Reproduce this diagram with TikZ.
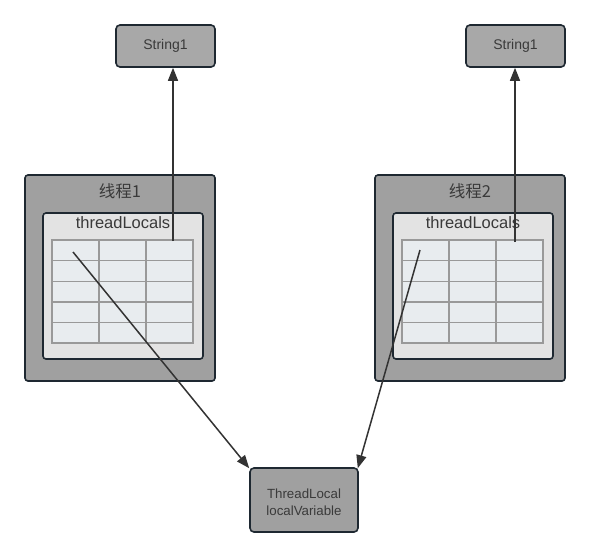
\documentclass[tikz,border=0pt]{standalone}
\usepackage{fontspec}
\setmainfont{Liberation Sans}
\newfontfamily\cjk{Noto Sans CJK SC}
\usetikzlibrary{arrows.meta,calc}
\definecolor{bordc}{HTML}{1E2831}
\definecolor{outerc}{HTML}{A0A0A0}
\definecolor{innerc}{HTML}{E3E3E3}
\definecolor{cellc}{HTML}{E8ECEF}
\definecolor{gridc}{HTML}{999999}
\definecolor{txtc}{HTML}{3A3A3A}
\definecolor{arrc}{HTML}{333333}
\tikzset{
  outerbox/.style={draw=bordc, fill=outerc, line width=1.6pt, rounded corners=3pt, minimum width=190pt, minimum height=206pt, inner sep=0pt},
  innerbox/.style={draw=bordc, fill=innerc, line width=1.6pt, rounded corners=3pt, minimum width=160pt, minimum height=146pt, inner sep=0pt},
  strbox/.style={draw=bordc, fill=outerc!92!white, line width=1.6pt, rounded corners=4pt, minimum width=99pt, minimum height=42pt, inner sep=0pt, text=txtc, font=\fontsize{14}{16}\selectfont},
  tlbox/.style={draw=bordc, fill=outerc, line width=1.6pt, rounded corners=4pt, minimum width=108pt, minimum height=64pt, inner sep=0pt, text=txtc, align=center, font=\fontsize{13.3}{17}\selectfont},
  titletxt/.style={text=txtc, inner sep=0pt, font=\cjk\fontsize{16.5}{18}\selectfont},
  tltxt/.style={text=txtc, inner sep=0pt, font=\fontsize{16.5}{18}\selectfont},
  gridline/.style={draw=gridc, line width=1.2pt},
  arr/.style={draw=arrc, line width=1.5pt, -{Triangle[length=13pt,width=10pt]}}
}
\begin{document}
\begin{tikzpicture}[x=1pt,y=-1pt]
\useasboundingbox (0,0) rectangle (590,558);
\fill[white] (0,0) rectangle (590,558);

% thread 1
\node[outerbox] (o1) at (120,278) {};
\node[titletxt] (t1) at (120,191) {线程1};
\node[innerbox] (i1) at (123,286) {};
\node[tltxt] (l1) at (123,223) {threadLocals};
\fill[cellc] (52,240) rectangle (193,343);
\foreach \yy in {260.7,281.3,302,322.5} \draw[gridline] (52,\yy) -- (193,\yy);
\foreach \xx in {99,146} \draw[gridline] (\xx,240) -- (\xx,343);
\draw[gridline] (52,240) rectangle (193,343);

% thread 2
\node[outerbox] (o2) at (470,278) {};
\node[titletxt] (t2) at (470,191) {线程2};
\node[innerbox] (i2) at (473,286) {};
\node[tltxt] (l2) at (473,223) {threadLocals};
\fill[cellc] (402,240) rectangle (543,343);
\foreach \yy in {260.7,281.3,302,322.5} \draw[gridline] (402,\yy) -- (543,\yy);
\foreach \xx in {449,496} \draw[gridline] (\xx,240) -- (\xx,343);
\draw[gridline] (402,240) rectangle (543,343);

% string boxes
\node[strbox] (s1) at (165.5,46) {String1};
\node[strbox] (s2) at (515.5,46) {String1};

% threadlocal box
\node[tlbox] (tl) at (304,500) {};
\node[text=txtc, align=center, inner sep=0pt, font=\fontsize{13.3}{17}\selectfont] (tlt) at (304,502) {ThreadLocal\\localVariable};

% connectors
\coordinate (a1) at (173,241);
\coordinate (a2) at (515,242);
\coordinate (b1) at (73,252);
\coordinate (b2) at (420,250);
\draw[arr] (a1) -- (a1 |- s1.south);
\draw[arr] (a2) -- (a2 |- s2.south);
\draw[arr] (b1) -- ($(tl.north west)+(0,1)$);
\draw[arr] (b2) -- ($(tl.north east)+(-1,1)$);
\end{tikzpicture}
\end{document}
